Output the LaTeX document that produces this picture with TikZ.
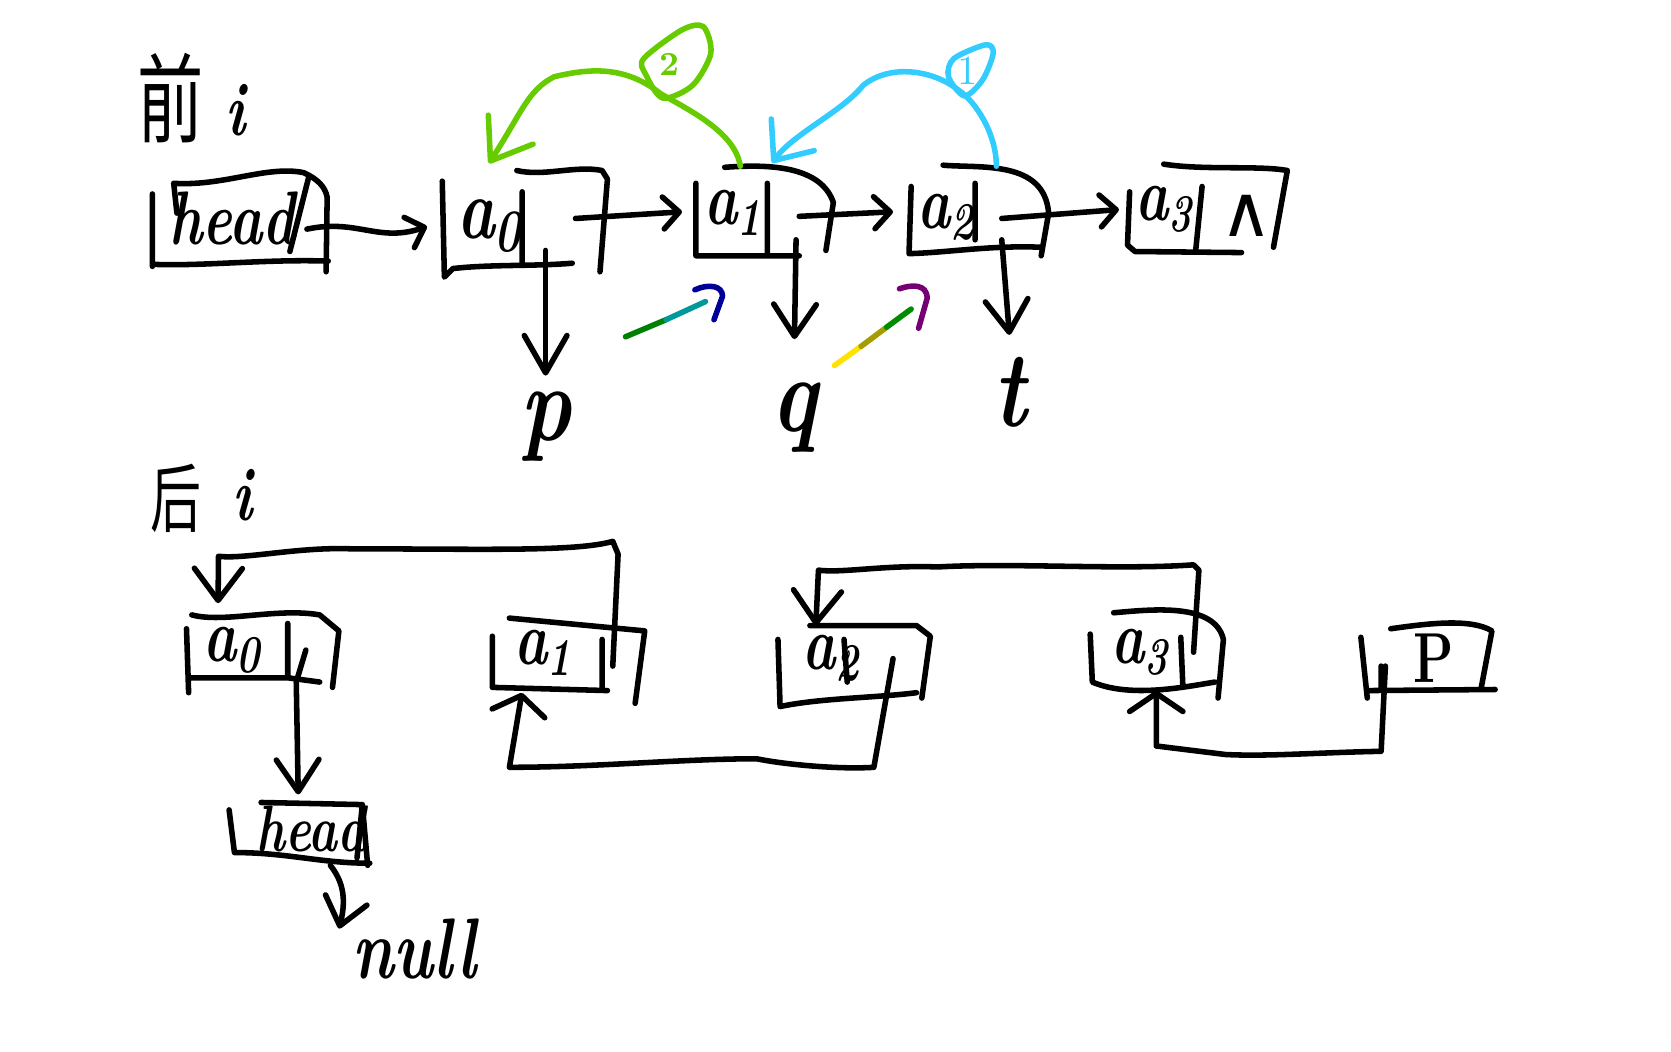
\documentclass[tikz,border=0pt]{standalone}
\usepackage{fontspec}
\usepackage{xcolor}
\usetikzlibrary{arrows.meta}
\newfontfamily\cjk{Noto Sans CJK SC}
\newfontfamily\symf{DejaVu Sans}
\definecolor{inkgreen}{HTML}{66CC00}
\definecolor{inkblue}{HTML}{33CCFF}

\begin{document}
\begin{tikzpicture}[x=0.01cm, y=-0.01cm,
    ink/.style = {line width=0.052cm, line cap=round, line join=round},
    cell/.style = {inner sep=0pt, outer sep=0pt},
    txt/.style = {inner sep=0pt, outer sep=0pt, transform shape, yscale=1.35, font=\bfseries\itshape\fontsize{15}{15}\selectfont},
    big/.style = {inner sep=0pt, outer sep=0pt, transform shape, yscale=1.25, font=\bfseries\itshape\fontsize{23}{23}\selectfont},
    hanzi/.style = {inner sep=0pt, outer sep=0pt, transform shape, xscale=.68, font=\cjk\fontsize{26}{26}\selectfont},
    ptr/.style = {ink, -{Straight Barb[round, length=3mm, width=4mm]}},
    ptrs/.style = {ink, -{Straight Barb[round, length=1.5mm, width=3mm]}},
    ptrw/.style = {ink, -{Straight Barb[round, length=1.7mm, width=5mm]}}]
  \useasboundingbox (0,0) rectangle (1568,987);

  \node[hanzi] (t_before) at (160,92) {\cjk 前};
  \node[txt] (t_i1) at (221,103) {i};
  \node[hanzi, font=\cjk\fontsize{20}{20}\selectfont] (t_after) at (165,468) {\cjk 后};
  \node[txt] (t_i2) at (228,465) {i};

  % top row
  \node[cell, minimum width=1.64cm, minimum height=.8cm] (n_head) at (225,210) {};
  \node[cell, minimum width=1.56cm, minimum height=.96cm] (n_a0) at (492,208) {};
  \node[cell, minimum width=1.3cm, minimum height=.84cm] (n_a1) at (717,198) {};
  \node[cell, minimum width=1.3cm, minimum height=.84cm] (n_a2) at (918,198) {};
  \node[cell, minimum width=1.5cm, minimum height=.84cm] (n_a3) at (1133,196) {};
  \node[txt] (t_head) at (218,205) {head};
  \node[txt, font=\bfseries\itshape\fontsize{17}{17}\selectfont] (t_a0) at (460,212) {a\textsubscript{0}};
  \node[txt] (t_a1) at (688,200) {a\textsubscript{1}};
  \node[txt] (t_a2) at (888,204) {a\textsubscript{2}};
  \node[txt] (t_a3) at (1093,196) {a\textsubscript{3}};
  \node[inner sep=0pt, font=\symf\fontsize{19}{19}\selectfont] (t_nil) at (1170,203) {∧};
  \node[big, minimum height=.6cm] (t_p) at (512,400) {p};
  \node[big, minimum height=.7cm] (t_q) at (745,392) {q};
  \node[big, minimum height=.7cm] (t_t) at (948,368) {t};

  \draw[ink] (143,182) -- (143,250) (143,248) .. controls (190,250) and (250,243) .. (308,245)
    (163,172) .. controls (210,175) and (250,155) .. (285,162) .. controls (298,168) and (305,175) .. (307,185) -- (306,255)
    (290,165) -- (272,236) (163,172) -- (166,200);
  \draw[ink] (415,170) -- (417,260) -- (425,252) .. controls (460,248) and (500,250) .. (537,247)
    (485,160) .. controls (510,166) and (540,155) .. (565,160) -- (570,168) -- (563,255) (490,180) -- (490,248);
  \draw[ink] (653,172) -- (653,240) -- (750,240) (680,157) .. controls (720,154) and (770,155) .. (782,190) -- (775,235) (720,172) -- (720,240);
  \draw[ink] (855,175) -- (853,238) .. controls (890,237) and (930,230) .. (977,232)
    (885,155) .. controls (920,158) and (980,150) .. (984,200) -- (977,240) (915,172) -- (915,225);
  \draw[ink] (1060,180) -- (1058,230) -- (1065,236) -- (1165,237)
    (1092,154) .. controls (1130,160) and (1180,155) .. (1208,160) -- (1195,232) (1128,175) -- (1122,235);

  \coordinate (p_head) at (288,215);
  \coordinate (p_a0) at (540,205);
  \coordinate (p_a1) at (750,203);
  \coordinate (p_a2) at (940,205);
  \coordinate (d_a0) at (512,235);
  \coordinate (d_a1) at (747,225);
  \coordinate (d_a2) at (940,225);

  \draw[ptrs, shorten >=.14cm] (p_head) .. controls (335,205) and (355,228) .. (n_a0.west);
  \draw[ptrs, shorten >=.12cm] (p_a0) -- (n_a1.west);
  \draw[ptrs, shorten >=.15cm] (p_a1) -- (n_a2.west);
  \draw[ptrs, shorten >=.08cm] (p_a2) -- (n_a3.west);
  \draw[ptr, -{Straight Barb[round, length=3.5mm, width=4mm]}, shorten >=.1cm] (d_a0) -- (t_p.north);
  \draw[ptr, shorten >=.3cm] (d_a1) -- (t_q.north);
  \draw[ptr, shorten >=.1cm] (d_a2) -- (t_t.north);

  \draw[ptr, inkgreen, -{Straight Barb[round, length=3.5mm, width=5mm]}, shorten >=.08cm] (n_a1.118) .. controls (690,125) and (650,105) .. (620,88) .. controls (585,60) and (550,65) .. (520,72) .. controls (495,85) and (490,105) .. (n_a0.128);
  \draw[ink, inkgreen] plot[smooth cycle] coordinates {(622,92) (606,70) (604,55) (640,28) (660,25) (667,50) (650,80)};
  \node[inkgreen, inner sep=0pt, font=\bfseries\fontsize{9}{9}\selectfont] (t_two) at (628,60) {2};
  \draw[ptr, inkblue, -{Straight Barb[round, length=3mm, width=5mm]}, shorten >=.04cm] (n_a2.68) .. controls (935,125) and (915,95) .. (900,85) .. controls (875,65) and (835,60) .. (810,80) .. controls (790,105) and (745,125) .. (n_a1.83);
  \draw[ink, inkblue] plot[smooth cycle] coordinates {(905,90) (890,72) (895,55) (925,42) (932,50) (922,75)};
  \node[inkblue, inner sep=0pt, font=\fontsize{11}{11}\selectfont] (t_one) at (908,66) {1};

  \draw[ink, green!50!black] (587,316) -- (625,300);
  \draw[ink, teal!80!cyan] (625,300) -- (662,283);
  \draw[ink, blue!60!black] (652,272) .. controls (665,266) and (678,268) .. (678,278) -- (670,300);
  \draw[ink, yellow!85!orange] (783,343) -- (808,325);
  \draw[ink, olive!80!yellow] (808,325) -- (832,307);
  \draw[ink, green!55!black] (832,307) -- (855,290);
  \draw[ink, violet!70!magenta!70!black] (844,271) .. controls (855,267) and (870,266) .. (870,280) -- (862,308);

  % bottom row
  \node[cell, minimum width=1.43cm, minimum height=.72cm] (m_a0) at (246,612) {};
  \node[cell, minimum width=1.43cm, minimum height=.7cm] (m_a1) at (533,615) {};
  \node[cell, minimum width=1.43cm, minimum height=.76cm] (m_a2) at (801,625) {};
  \node[cell, minimum width=1.25cm, minimum height=.76cm] (m_a3) at (1085,613) {};
  \node[cell, minimum width=1.2cm, minimum height=.62cm] (m_p) at (1340,618) {};
  \node[cell, minimum width=1.3cm, minimum height=.57cm] (m_head) at (280,782) {};
  \node[txt] (u_a0) at (218,610) {a\textsubscript{0}};
  \node[txt] (u_a1) at (510,613) {a\textsubscript{1}};
  \node[txt] (u_a2) at (780,618) {a\textsubscript{2}};
  \node[txt] (u_a3) at (1070,612) {a\textsubscript{3}};
  \node[txt, font=\bfseries\fontsize{14}{14}\selectfont] (u_p) at (1345,618) {P};
  \node[txt, font=\bfseries\itshape\fontsize{13}{13}\selectfont] (u_head) at (292,778) {head};
  \node[txt, font=\bfseries\itshape\fontsize{17}{17}\selectfont] (u_null) at (389,890) {null};

  \draw[ink] (175,590) -- (177,650) (177,636) -- (270,636) -- (300,640)
    (180,577) .. controls (210,585) and (260,570) .. (300,577) -- (318,592) -- (312,645) (270,585) -- (270,635);
  \draw[ink] (462,597) -- (462,645) -- (570,648) (478,580) -- (605,592) -- (596,660) (565,600) -- (565,645);
  \draw[ink] (730,600) -- (732,663) .. controls (770,655) and (820,655) .. (860,650)
    (760,587) -- (860,587) -- (873,597) -- (865,655) (792,600) -- (795,640);
  \draw[ink] (1023,595) -- (1025,640) .. controls (1060,655) and (1110,645) .. (1140,640)
    (1045,575) .. controls (1080,572) and (1140,565) .. (1148,600) -- (1143,655) (1108,598) -- (1110,645);
  \draw[ink] (1277,598) -- (1283,655) (1283,648) -- (1403,647)
    (1305,590) .. controls (1340,585) and (1380,580) .. (1400,592) -- (1390,645) (1296,625) -- (1296,648);
  \draw[ink] (215,760) -- (220,800) .. controls (270,800) and (300,810) .. (347,810)
    (245,753) -- (340,755) -- (345,812) (340,755) -- (335,805);

  \coordinate (q_a0) at (287,610);
  \coordinate (q_a1) at (575,625);
  \coordinate (q_a2) at (838,618);
  \coordinate (q_a3) at (1120,612);
  \coordinate (q_p) at (1300,625);
  \coordinate (q_head) at (310,812);

  \draw[ptr, shorten >=.08cm] (q_a0) -- (278,640) -- (m_head.north);
  \draw[ptr, shorten >=.1cm, -{Straight Barb[round, length=3mm, width=4.5mm]}] (q_a1) -- (580,520) -- (575,508) .. controls (540,518) and (450,515) .. (330,515) .. controls (280,513) and (230,525) .. (205,522) -- (m_a0.139);
  \draw[ptr, -{Straight Barb[round, length=3mm, width=4.5mm]}] (q_a3) -- (1125,535) -- (1120,530) .. controls (1050,535) and (950,528) .. (880,532) .. controls (830,530) and (790,538) .. (768,535) -- (m_a2.133);
  \draw[ptrw] (q_a2) -- (820,720) .. controls (790,722) and (740,718) .. (710,712) .. controls (640,712) and (560,720) .. (478,720) -- (m_a1.219);
  \draw[ptrw, shorten >=-.03cm] (q_p) -- (1296,705) .. controls (1240,706) and (1190,710) .. (1150,708) -- (1085,700) -- (m_a3.south);
  \draw[ptr, -{Straight Barb[round, length=2.5mm, width=4mm]}, shorten >=-.1cm] (q_head) .. controls (320,825) and (326,840) .. ([xshift=-.1cm]u_null.north west);
\end{tikzpicture}
\end{document}
